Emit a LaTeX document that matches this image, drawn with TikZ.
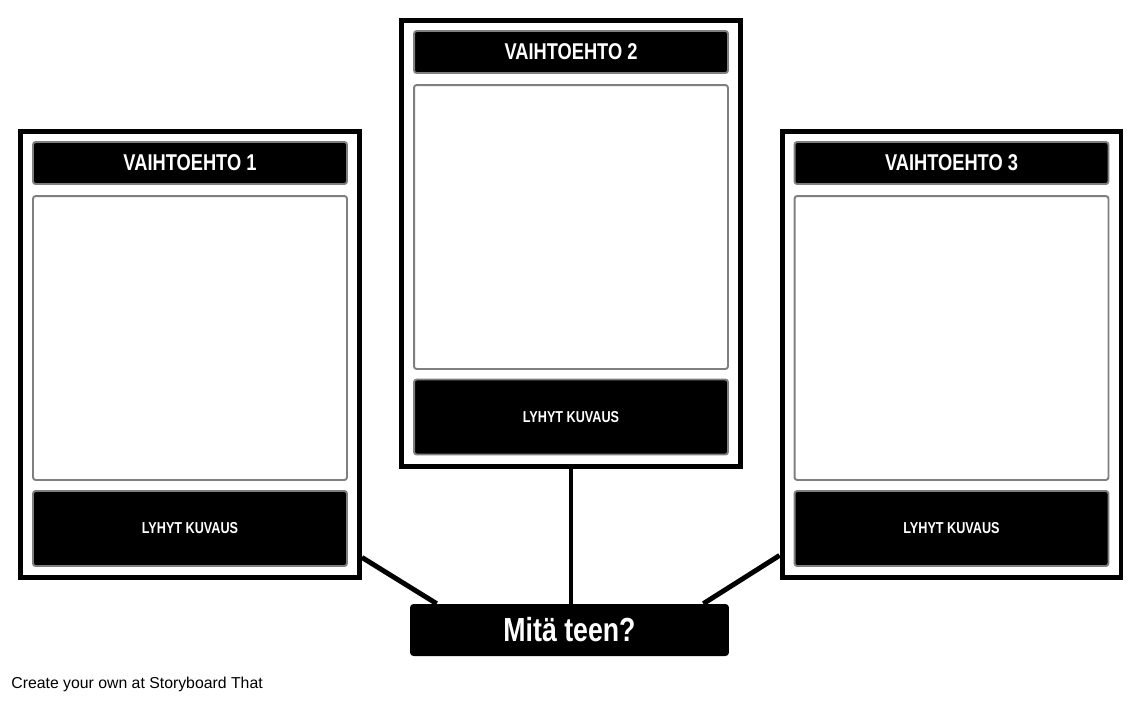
\documentclass[tikz,border=0pt]{standalone}
\usepackage{fontspec}
\setmainfont{Liberation Sans}
\newfontfamily\boardfont{Liberation Sans}[FakeStretch=0.8]
\definecolor{edgegray}{HTML}{7F7F7F}

\begin{document}
\begin{tikzpicture}[x=0.02cm,y=-0.02cm,
  frame/.style={draw,line width=2.8pt,minimum width=6.78cm,minimum height=8.92cm,inner sep=0pt},
  titlebar/.style={draw=edgegray,fill=black,line width=1.1pt,rounded corners=1.5pt,minimum width=6.28cm,minimum height=0.84cm,inner sep=0pt,text=white,font=\boardfont\bfseries\fontsize{13}{13}\selectfont},
  picbox/.style={draw=edgegray,fill=white,line width=1.1pt,rounded corners=1.5pt,minimum width=6.28cm,minimum height=5.68cm,inner sep=0pt},
  descbox/.style={draw=edgegray,fill=black,line width=1.1pt,rounded corners=1.5pt,minimum width=6.28cm,minimum height=1.5cm,inner sep=0pt,text=white,font=\boardfont\bfseries\fontsize{9}{9}\selectfont},
  link/.style={line width=2.8pt}]
\useasboundingbox (0,0) rectangle (1143,701);

% option 1
\node [frame] (opt1) at (190,354.5) {};
\node [titlebar] (title1) at (190,163) {VAIHTOEHTO 1};
\node [picbox] (pic1) at (190,338) {};
\node [descbox] (desc1) at (190,528.5) {LYHYT KUVAUS};

% option 2
\node [frame] (opt2) at (571,243.5) {};
\node [titlebar] (title2) at (571,52) {VAIHTOEHTO 2};
\node [picbox] (pic2) at (571,227) {};
\node [descbox] (desc2) at (571,417) {LYHYT KUVAUS};

% option 3
\node [frame] (opt3) at (951.5,354.5) {};
\node [titlebar] (title3) at (951.5,163) {VAIHTOEHTO 3};
\node [picbox] (pic3) at (951.5,338) {};
\node [descbox] (desc3) at (951.5,528.5) {LYHYT KUVAUS};

% the question
\node [fill=black,rounded corners=2pt,minimum width=6.38cm,minimum height=1.04cm,inner sep=0pt,text=white,font=\boardfont\bfseries\fontsize{19}{19}\selectfont] (ask) at (569.5,630) {Mitä teen?};

\draw [link] ([yshift=0.45cm]opt1.south east) -- ([xshift=0.54cm]ask.north west);
\draw [link] (opt2.south) -- (opt2.south |- ask.north);
\draw [link] ([yshift=0.49cm]opt3.south west) -- ([xshift=-0.52cm]ask.north east);

\node [anchor=base west,inner sep=0pt,font=\fontsize{9}{9}\selectfont] (credit) at (11,688) {Create your own at Storyboard That};
\end{tikzpicture}
\end{document}
